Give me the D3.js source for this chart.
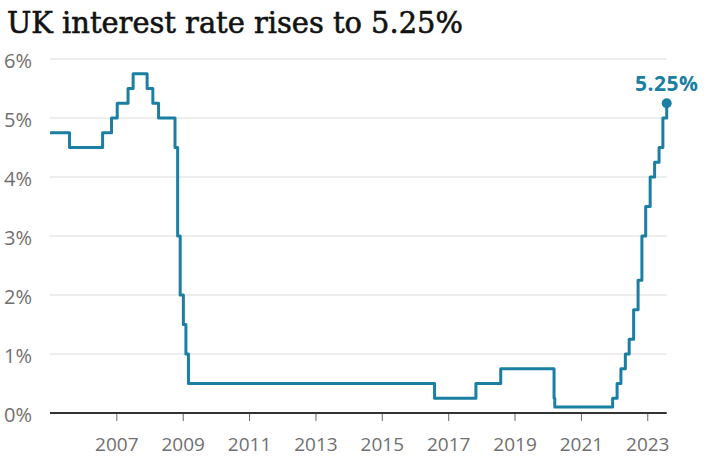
<!DOCTYPE html>
<html>
<head>
<meta charset="utf-8">
<script src="https://cdn.jsdelivr.net/npm/d3@7"></script>
<style>
  body { margin: 0; background: #fff; }
  svg { display: block; }
</style>
</head>
<body>
<div class="rate-chart"></div>
<script>
// Bank Rate change dates and the new rate set on each date
const changeDates = [
    '2005-01-01', '2005-08-04', '2006-08-03', '2006-11-09', '2007-01-11',
    '2007-05-10', '2007-07-05', '2007-12-06', '2008-02-07', '2008-04-10',
    '2008-10-08', '2008-11-06', '2008-12-04', '2009-01-08', '2009-02-05',
    '2009-03-05', '2016-08-04', '2017-11-02', '2018-08-02', '2020-03-11',
    '2020-03-19', '2021-12-16', '2022-02-03', '2022-03-17', '2022-05-05',
    '2022-06-16', '2022-08-04', '2022-09-22', '2022-11-03', '2022-12-15',
    '2023-02-02', '2023-03-23', '2023-05-11', '2023-06-22', '2023-08-03',
]
const rates = [
    4.75, 4.5, 4.75, 5.0, 5.25,
    5.5, 5.75, 5.5, 5.25, 5.0,
    4.5, 3.0, 2.0, 1.5, 1.0,
    0.5, 0.25, 0.5, 0.75, 0.25,
    0.1, 0.25, 0.5, 0.75, 1.0,
    1.25, 1.75, 2.25, 3.0, 3.5,
    4.0, 4.25, 4.5, 5.0, 5.25,
]
const tickYears = [2007, 2009, 2011, 2013, 2015, 2017, 2019, 2021, 2023]
const yTicks = [0, 1, 2, 3, 4, 5, 6]

const chartTitle = 'UK interest rate rises to 5.25%'

/* Configuration */
const width = 725
const height = 458
const margin = { top: 59, left: 50, right: 58.3, bottom: 45 }
const lineColor = '#1b7ea3'

const parse = d3.timeParse('%Y-%m-%d')
const data = d3.zip(changeDates, rates).map(([d, v]) => ({ date: parse(d), value: v }))

const x = d3
    .scaleTime()
    .domain(d3.extent(data, d => d.date))
    .range([margin.left, width - margin.right])

const y = d3
    .scaleLinear()
    .domain([0, 6])
    .range([height - margin.bottom, margin.top])

const svg = d3
    .select('.rate-chart')
    .append('svg')
    .attr('width', width)
    .attr('height', height)
    .attr('viewBox', [0, 0, width, height])

// Title, squeezed to the width it has in the original
const title = svg
    .append('text')
    .attr('x', 7)
    .attr('y', 33)
    .attr('fill', '#121212')
    .attr('stroke', '#121212')
    .attr('stroke-width', 0.6)
    .style('font-family', '"DejaVu Serif", serif')
    .style('font-size', '26px')
    .text(chartTitle)
const titleW = title.node().getComputedTextLength()
title.style('font-size', (26 * 456 / titleW).toFixed(2) + 'px')

// Grid lines + y labels
const yAxis = svg.append('g')
yAxis
    .selectAll('line')
    .data(yTicks.filter(d => d > 0))
    .join('line')
    .attr('x1', margin.left)
    .attr('x2', width - margin.right)
    .attr('y1', d => y(d))
    .attr('y2', d => y(d))
    .attr('stroke', '#dcdcdc')
    .attr('stroke-width', 1)

yAxis
    .selectAll('text')
    .data(yTicks)
    .join('text')
    .attr('x', 4)
    .attr('y', d => y(d) + 8.5)
    .attr('fill', '#707070')
    .style('font-family', '"Open Sans", sans-serif')
    .style('font-size', '20px')
    .text(d => d + '%')

// x axis
const xAxis = svg
    .append('g')
    .attr('transform', `translate(0, ${y(0)})`)
    .call(
        d3.axisBottom(x)
            .tickValues(tickYears.map(t => new Date(t, 0, 1)))
            .tickFormat(d3.timeFormat('%Y'))
            .tickSize(8)
            .tickPadding(17)
    )
xAxis.select('.domain').remove()
xAxis.selectAll('.tick line').attr('stroke', '#666').attr('stroke-width', 1)
xAxis
    .selectAll('.tick text')
    .attr('fill', '#707070')
    .style('font-family', '"Open Sans", sans-serif')
    .style('font-size', '19px')

// baseline
svg
    .append('line')
    .attr('x1', margin.left)
    .attr('x2', width - margin.right)
    .attr('y1', y(0))
    .attr('y2', y(0))
    .attr('stroke', '#333')
    .attr('stroke-width', 2)

// the rate line
const line = d3
    .line()
    .curve(d3.curveStepAfter)
    .x(d => x(d.date))
    .y(d => y(d.value))

svg
    .append('path')
    .datum(data)
    .attr('fill', 'none')
    .attr('stroke', lineColor)
    .attr('stroke-width', 3)
    .attr('stroke-linejoin', 'round')
    .attr('d', line)

// end dot + label
const last = data[data.length - 1]
svg
    .append('circle')
    .attr('cx', x(last.date))
    .attr('cy', y(last.value))
    .attr('r', 5)
    .attr('fill', lineColor)

svg
    .append('text')
    .attr('x', x(last.date))
    .attr('y', y(last.value) - 12)
    .attr('text-anchor', 'middle')
    .attr('fill', lineColor)
    .style('font-family', '"Open Sans", sans-serif')
    .style('font-weight', '700')
    .style('font-size', '21px')
    .style('letter-spacing', '0.5px')
    .text(last.value + '%')
</script>
</body>
</html>
